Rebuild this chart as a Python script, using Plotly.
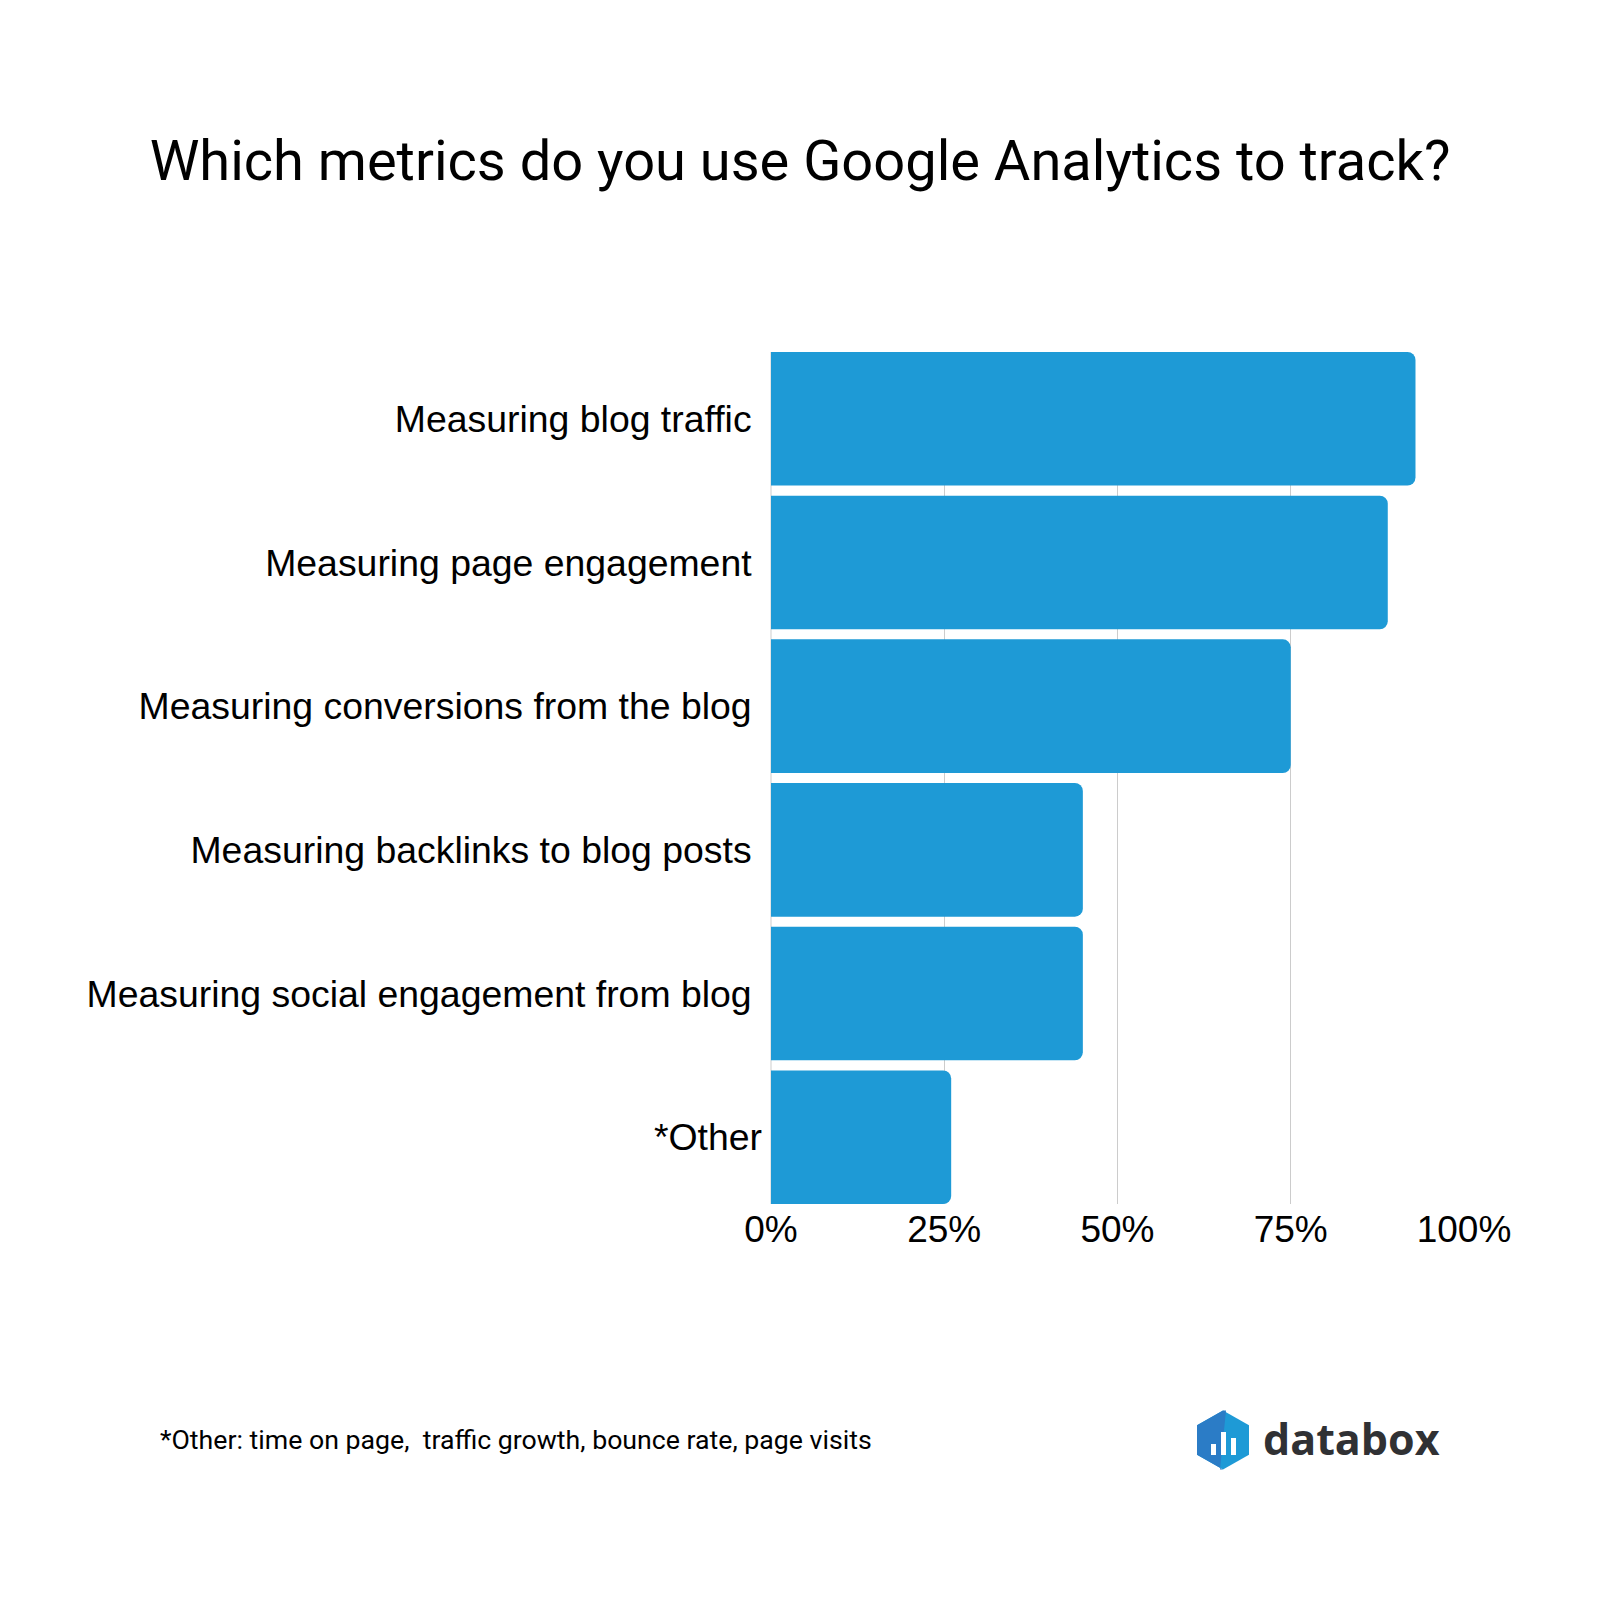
import plotly.graph_objects as go

# survey answers, top to bottom
metrics = [
    "Measuring blog traffic",
    "Measuring page engagement",
    "Measuring conversions from the blog",
    "Measuring backlinks to blog posts",
    "Measuring social engagement from blog",
    "*Other",
]
share = [93, 89, 75, 45, 45, 26]  # % of respondents

x_ticks = [0, 25, 50, 75, 100]
x_ticklabels = ["0%", "25%", "50%", "75%", "100%"]

title_text = "Which metrics do you use Google Analytics to track?"
footnote_text = "*Other: time on page,  traffic growth, bounce rate, page visits"
BLUE = "#1e9ad6"

# plot area in page pixels
L, R, T, B = 763, 144, 344, 404
SIZE = 1600
W = SIZE - L - R
H = SIZE - T - B


def px_x(px):
    return (px - L) / W


def px_y(py):
    return (SIZE - B - py) / H


# the original labels don't all line up; *Other sits a bit further right
labels = [m if m.startswith("*") else m + "\u00a0" for m in metrics]

fig = go.Figure()
fig.add_trace(go.Bar(
    x=share,
    y=labels,
    orientation="h",
    marker=dict(color=BLUE, line_width=0, cornerradius=8),
    hoverinfo="x+y",
))

gap = 0.07
fig.update_layout(
    width=SIZE,
    height=SIZE,
    margin=dict(l=L, r=R, t=T, b=B),
    paper_bgcolor="white",
    plot_bgcolor="white",
    bargap=gap,
    showlegend=False,
    font=dict(family="Liberation Sans, Arial, sans-serif", color="black"),
    title=dict(
        text=title_text,
        x=792 / SIZE, xref="container", xanchor="center",
        y=1 - 152 / SIZE, yref="container", yanchor="middle",
        font=dict(family="Roboto", size=56, color="black"),
    ),
)
fig.update_xaxes(
    range=[0, 100],
    tickvals=x_ticks,
    ticktext=x_ticklabels,
    showgrid=True,
    gridcolor="#cccccc",
    gridwidth=1,
    zeroline=True,
    zerolinecolor="#e6e6e6",
    showline=False,
    ticks="",
    tickfont=dict(size=37, color="black"),
    fixedrange=True,
)
fig.update_yaxes(
    range=[len(metrics) - 0.5 - gap / 2, -0.5 + gap / 2],
    showgrid=False,
    zeroline=False,
    showline=False,
    ticks="",
    ticklabelstandoff=8,
    tickfont=dict(size=37.4, color="black"),
    fixedrange=True,
)

# footnote
fig.add_annotation(
    text=footnote_text,
    xref="paper", yref="paper",
    x=px_x(150), y=px_y(1432),
    xanchor="left", yanchor="middle",
    showarrow=False,
    font=dict(family="Roboto", size=26.7, color="black"),
)

# databox logo: hexagon + wordmark
cx, cy, hw, hh = 1215, 1432, 26, 29.5
hexa = [(cx, cy - hh), (cx + hw, cy - hh / 2), (cx + hw, cy + hh / 2),
        (cx, cy + hh), (cx - hw, cy + hh / 2), (cx - hw, cy - hh / 2)]


def path(points):
    return "M " + " L ".join(f"{px_x(a):.5f},{px_y(b):.5f}" for a, b in points) + " Z"


fig.add_shape(type="path", xref="paper", yref="paper",
              path=path(hexa), fillcolor=BLUE, line_width=0, layer="above")
left_half = [hexa[0], (cx + 3, cy - hh), (cx - 3, cy + hh), hexa[3], hexa[4], hexa[5]]
fig.add_shape(type="path", xref="paper", yref="paper",
              path=path(left_half), fillcolor="#2b7cc6", line_width=0, layer="above")
for bx, top in [(cx - 12, cy + 4), (cx - 2, cy - 8), (cx + 8, cy - 2)]:
    fig.add_shape(type="rect", xref="paper", yref="paper",
                  x0=px_x(bx), x1=px_x(bx + 5), y0=px_y(cy + 15), y1=px_y(top),
                  fillcolor="white", line_width=0, layer="above")

fig.add_annotation(
    text="<b>databox</b>",
    xref="paper", yref="paper",
    x=px_x(1253), y=px_y(1430),
    xanchor="left", yanchor="middle",
    showarrow=False,
    font=dict(family="Open Sans", size=43, color="#303134"),
)

fig.write_html("out.html")
